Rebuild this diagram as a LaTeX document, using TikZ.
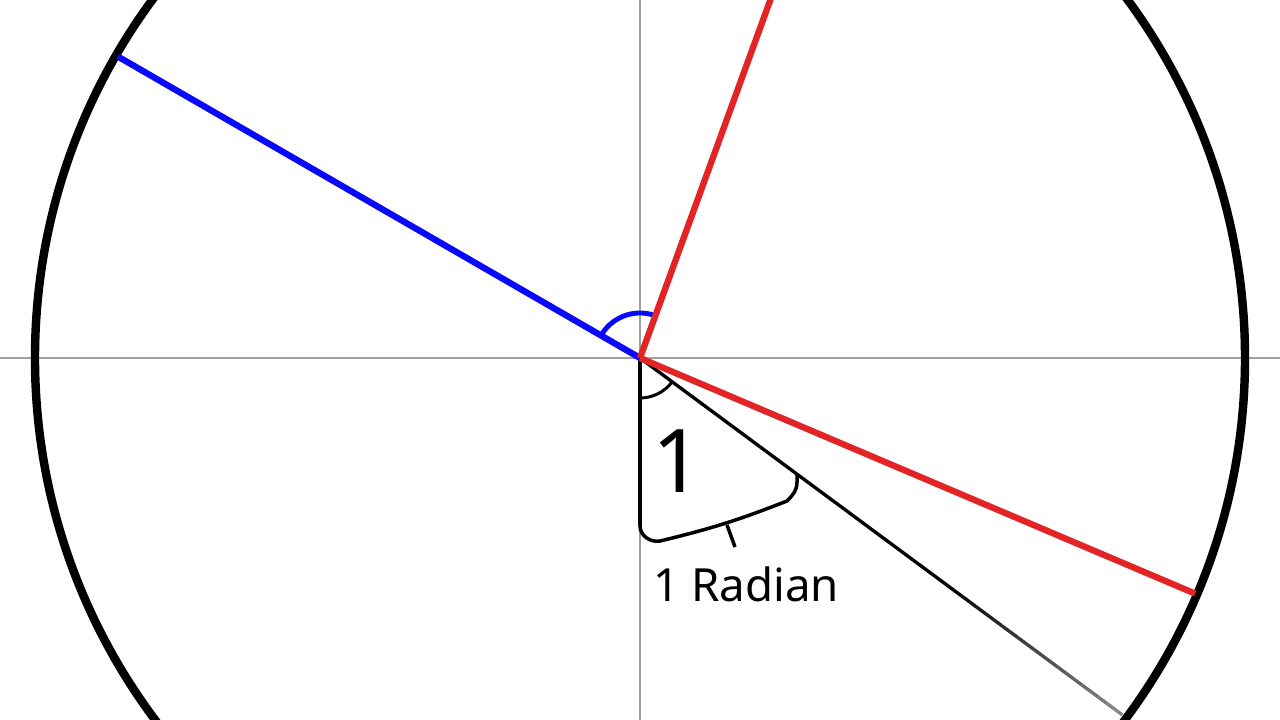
\documentclass[tikz,border=0pt]{standalone}
\usepackage{fontspec}
\setmainfont{Noto Sans}
\definecolor{radred}{RGB}{226,36,38}
\definecolor{radblue}{RGB}{8,8,250}

\begin{document}
\begin{tikzpicture}[
    axis/.style={gray!75,line width=0.45pt},
    rim/.style={line width=2.4pt},
    spoke/.style={line width=1.8pt},
    radius line/.style={line width=0.95pt},
    brace line/.style={line width=1pt,line join=round}]
    \useasboundingbox (-6.4,-3.62) rectangle (6.4,3.58);
    \clip (-6.4,-3.62) rectangle (6.4,3.58);
    \coordinate (O) at (0,0);
    % axes
    \draw[axis] (-6.4,0) -- (6.4,0);
    \draw[axis] (0,-3.62) -- (0,3.58);
    % unit circle
    \draw[rim] (O) circle (6.05);
    % black radius, fading towards the rim
    \draw[radius line] (O) -- (-36.5:3.8);
    \foreach \i [evaluate=\i as \tone using 100-2.5*\i,
                 evaluate=\i as \ra using 3.8+0.1*\i,
                 evaluate=\i as \rb using 3.9+0.1*\i] in {0,...,21}
        \draw[radius line,black!\tone] (-36.5:\ra) -- (-36.5:\rb);
    % angle mark for one radian
    \draw[line width=0.85pt] (270:0.4) arc[start angle=270,end angle=323.5,radius=0.4];
    % brace along the radius and the arc
    \draw[brace line] (O) -- (0,-1.68) to[out=-90,in=190] (0.2,-1.83)
        to[bend right=4] (1.47,-1.43) to[out=45,in=-90] (1.57,-1.24) -- (1.57,-1.17);
    \draw[brace line] (0.87,-1.67) -- (0.95,-1.89);
    \node[font=\fontsize{25}{25}\selectfont] (one) at (0.38,-1.03) {1};
    \node[font=\fontsize{13}{13}\selectfont] (radian) at (1.06,-2.26) {1 Radian};
    % blue radius and its angle
    \draw[spoke,radblue] (O) -- (150:6.03);
    \draw[radblue,line width=1.4pt] (150:0.45) arc[start angle=150,end angle=73,radius=0.45];
    % red radii
    \draw[spoke,radred] (O) -- (70:6.03);
    \draw[spoke,radred] (O) -- (-23:6.03);
\end{tikzpicture}
\end{document}
